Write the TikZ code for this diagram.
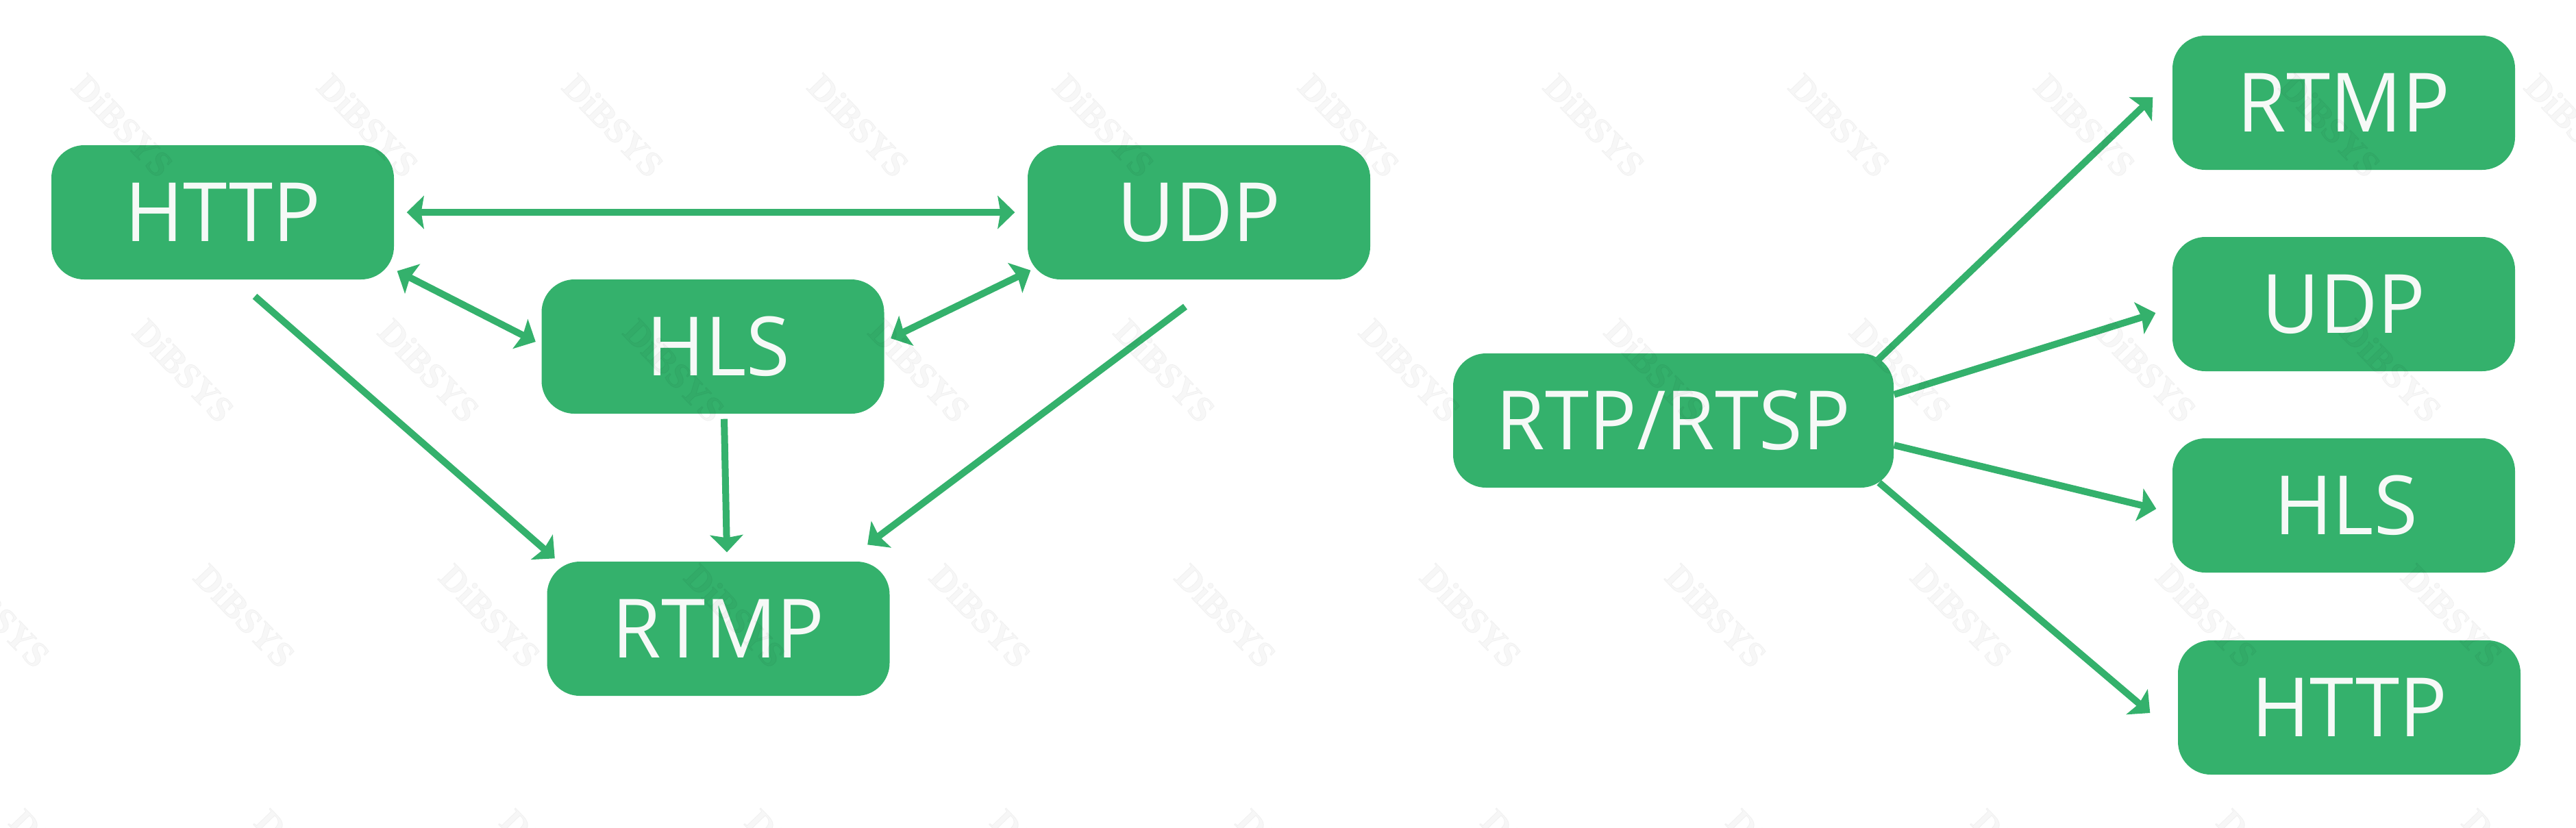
\documentclass[tikz,border=0pt]{standalone}
\usepackage{fontspec}
\setmainfont[FakeStretch=.97]{Open Sans}
\newfontfamily\markfont[FakeBold=2]{Liberation Serif}
\usetikzlibrary{arrows.meta}
\definecolor{box green}{HTML}{34B16C}
\definecolor{box text}{HTML}{F6F9F7}
\tikzstyle{proto}=[fill=box green,rounded corners=.48cm,minimum width=5cm,minimum height=1.96cm,inner sep=0,text=box text,font=\fontsize{34}{34}\selectfont,text height=.85cm,text depth=0pt]
\tikzstyle{link}=[draw=box green,line width=.1cm,{Stealth[length=.25cm,width=.48cm,inset=.04cm]}-{Stealth[length=.25cm,width=.48cm,inset=.04cm]}]
\tikzstyle{flow}=[draw=box green,line width=.1cm,-{Stealth[length=.25cm,width=.48cm,inset=.04cm]}]
\tikzstyle{wmark}=[text=black,text opacity=.03,rotate=-46,font=\markfont\bfseries\fontsize{15}{15}\selectfont,inner sep=0]
\begin{document}
\begin{tikzpicture}
\useasboundingbox (0,0) rectangle (37.6,-12.08);
% left group
\node[proto] (http) at (3.25,-3.10) {HTTP};
\node[proto] (udp) at (17.50,-3.10) {UDP};
\node[proto] (hls) at (10.405,-5.06) {\hspace*{.16cm}HLS};
\node[proto] (rtmpa) at (10.485,-9.18) {RTMP};
% right group
\node[proto,minimum width=6.43cm] (rtp) at (24.425,-6.14) {RTP/RTSP};
\node[proto] (rtmpb) at (34.21,-1.50) {RTMP};
\node[proto] (udpb) at (34.21,-4.44) {UDP};
\node[proto] (hlsb) at (34.21,-7.38) {\hspace*{.06cm}HLS};
\node[proto] (httpb) at (34.29,-10.33) {HTTP};

\draw[link] ([xshift=.18cm]http.east) -- ([xshift=-.18cm]udp.west);
\draw[link] ([xshift=.04cm,yshift=.13cm]http.south east) -- ([xshift=-.08cm,yshift=.07cm]hls.west);
\draw[link] ([xshift=.09cm,yshift=.12cm]hls.east) -- ([xshift=.05cm,yshift=.14cm]udp.south west);
\draw[flow] ([xshift=.47cm,yshift=-.24cm]http.south) -- ([xshift=.12cm,yshift=.04cm]rtmpa.north west);
\draw[flow] ([xshift=.165cm,yshift=-.07cm]hls.south) -- ([xshift=.125cm,yshift=.13cm]rtmpa.north);
\draw[flow] ([xshift=-.20cm,yshift=-.39cm]udp.south) -- ([xshift=-.33cm,yshift=.24cm]rtmpa.north east);

\draw[flow] ([xshift=-.235cm,yshift=-.10cm]rtp.north east) -- ([xshift=-.28cm,yshift=.08cm]rtmpb.west);
\draw[flow] ([yshift=.38cm]rtp.east) -- ([xshift=-.24cm,yshift=-.13cm]udpb.west);
\draw[flow] ([yshift=-.36cm]rtp.east) -- ([xshift=-.23cm,yshift=-.05cm]hlsb.west);
\draw[flow] ([xshift=-.22cm,yshift=.08cm]rtp.south east) -- ([xshift=-.40cm,yshift=-.08cm]httpb.west);

% watermark over everything
\foreach \r in {0,...,3}
  \foreach \c in {-2,...,10}
    \node[wmark] (mark-\r-\c) at ({5.37+.89*\r+3.58*\c},{-1.83-3.58*\r}) {DiBSYS};
\end{tikzpicture}
\end{document}
